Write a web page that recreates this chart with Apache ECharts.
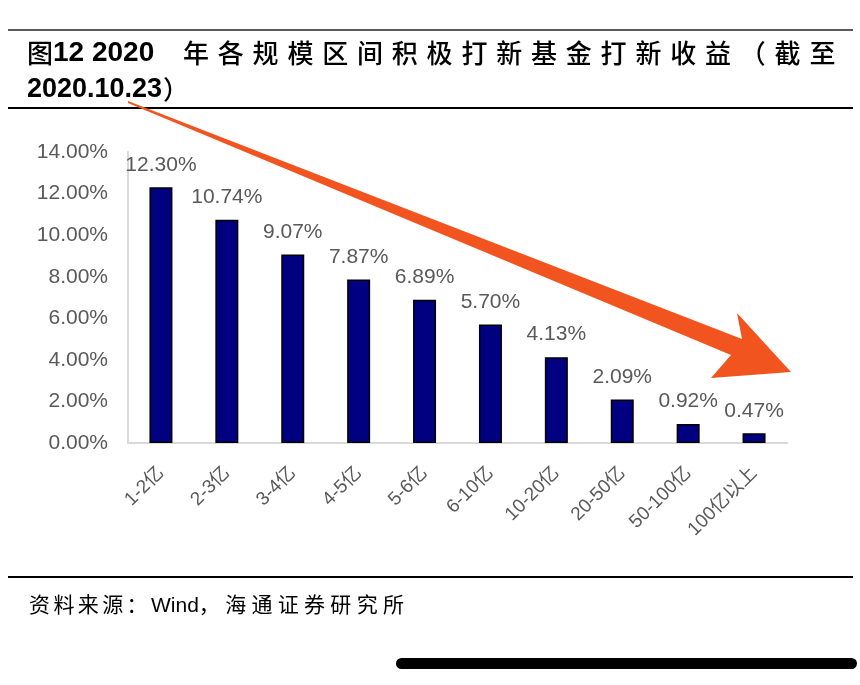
<!DOCTYPE html>
<html>
<head>
<meta charset="utf-8">
<script src="https://cdn.jsdelivr.net/npm/echarts@6/dist/echarts.min.js"></script>
<style>
  html, body { margin: 0; padding: 0; background: #fff; }
  #page { position: relative; width: 860px; height: 685px; overflow: hidden; }
  #chart { position: absolute; left: 0; top: 0; width: 860px; height: 685px; }
  .txt { position: absolute; white-space: nowrap; line-height: 36px; color: #000; }
  .cjk { font-family: "Noto Sans CJK SC", sans-serif; font-size: 26px; font-weight: 500; }
  .num { font-family: "Liberation Sans", Arial, sans-serif; font-size: 27px; font-weight: bold; }
  .src { font-family: "Noto Sans CJK SC", sans-serif; font-size: 21px; line-height: 30px; }
  .src b { font-family: "Liberation Sans", Arial, sans-serif; font-weight: normal; font-size: 21px; }
</style>
</head>
<body>
<div id="page">
  <div id="chart"></div>
  <!-- 标题 -->
  <div class="txt cjk" style="left:27px;top:34px;">图</div>
  <div class="txt num" style="left:53px;top:34px;font-size:28px;">12 2020</div>
  <div class="txt cjk" style="left:183px;top:34px;letter-spacing:8.8px;">年各规模区间积极打新基金打新收益（截至</div>
  <div class="txt num" style="left:27px;top:70px;">2020.10.23</div>
  <div class="txt cjk" style="left:163px;top:70px;">）</div>
  <!-- 来源 -->
  <div class="txt src" style="left:29px;top:588px;"><span style="letter-spacing:3.4px;">资料来源：</span><b>Wind</b><span style="letter-spacing:5.3px;">，海通证券研究所</span></div>
</div>
<script>
// 数据
const categories = ["1-2亿", "2-3亿", "3-4亿", "4-5亿", "5-6亿", "6-10亿", "10-20亿", "20-50亿", "50-100亿", "100亿以上"];
const returns = [12.30, 10.74, 9.07, 7.87, 6.89, 5.70, 4.13, 2.09, 0.92, 0.47];
const yMin = 0;
const yMax = 14;
const yStep = 2;

const gray = "#595959";
const latin = "'Liberation Sans', Arial, 'Noto Sans CJK SC', sans-serif";

const chart = echarts.init(document.getElementById("chart"));

const option = {
  animation: false,
  backgroundColor: "#fff",
  grid: { left: 128, right: 73, top: 152, bottom: 242, containLabel: false },
  xAxis: {
    type: "category",
    data: categories,
    axisLine: { lineStyle: { color: "#d9d9d9", width: 2 } },
    axisTick: { show: false },
    axisLabel: {
      rotate: 45,
      margin: 27,
      interval: 0,
      color: gray,
      fontSize: 19,
      fontFamily: latin,
    },
  },
  yAxis: {
    type: "value",
    min: yMin,
    max: yMax,
    interval: yStep,
    splitLine: { show: false },
    axisLine: { show: true, lineStyle: { color: "#d9d9d9", width: 2 } },
    axisTick: { show: false },
    axisLabel: {
      margin: 20,
      color: gray,
      fontSize: 21,
      fontFamily: latin,
      formatter: (v) => v.toFixed(2) + "%",
    },
  },
  series: [
    {
      type: "bar",
      data: returns,
      barWidth: 23,
      itemStyle: { color: "#000080", borderColor: "#000000", borderWidth: 1.5 },
      label: {
        show: true,
        position: "top",
        distance: 12,
        color: gray,
        fontSize: 21,
        fontFamily: latin,
        formatter: (p) => p.value.toFixed(2) + "%",
      },
    },
  ],
  graphic: [
    // 分隔线
    { type: "line", shape: { x1: 8, y1: 30, x2: 853, y2: 30 }, style: { stroke: "#222", lineWidth: 1.5 } },
    { type: "line", shape: { x1: 8, y1: 108, x2: 853, y2: 108 }, style: { stroke: "#000", lineWidth: 2 } },
    { type: "line", shape: { x1: 8, y1: 577, x2: 853, y2: 577 }, style: { stroke: "#000", lineWidth: 2 } },
    // 橙色箭头
    {
      type: "polygon",
      z: 100,
      shape: {
        points: [
          [128, 101], [742, 339], [737, 313], [791, 372], [711, 378], [731, 355], [128, 103],
        ],
      },
      style: { fill: "#f2541f" },
    },
    // 底部黑条
    {
      type: "rect",
      shape: { x: 396, y: 658, width: 461, height: 11, r: 5.5 },
      style: { fill: "#000" },
    },
  ],
};

chart.setOption(option);
</script>
</body>
</html>
